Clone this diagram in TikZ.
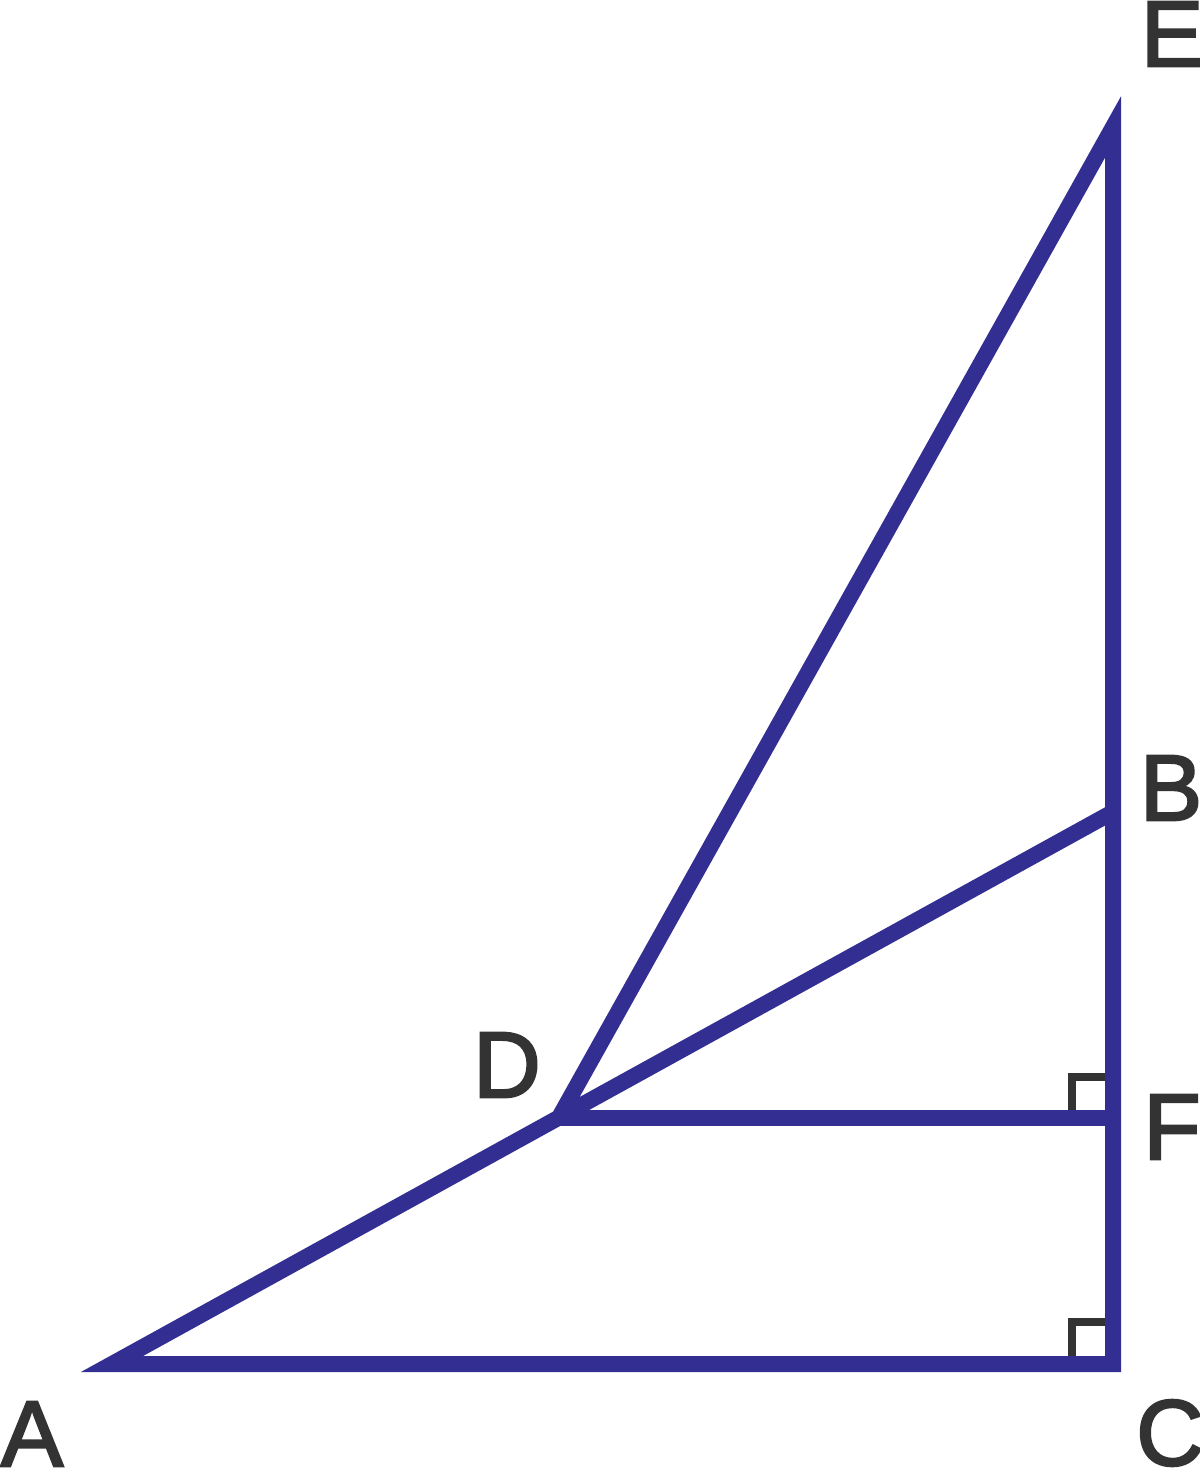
\documentclass[tikz,border=0pt]{standalone}
\usepackage{fontspec}
\setmainfont{Liberation Sans}
\newfontfamily\lblfont[FakeBold=2.5]{Liberation Sans}
\definecolor{lineblue}{HTML}{322E92}
\definecolor{labelgray}{HTML}{333333}
\begin{document}
\begin{tikzpicture}[x=1pt,y=-1pt,
  edge/.style={draw=lineblue,line width=16pt,miter limit=10},
  rightmark/.style={draw=labelgray,line width=8pt},
  lbl/.style={text=labelgray,inner sep=0pt,font=\lblfont\fontsize{93.6}{100}\selectfont}]
\useasboundingbox (0,0) rectangle (1200,1468);
\coordinate (A) at (112,1364);
\coordinate (C) at (1113,1364);
\coordinate (E) at (1113,127);
\coordinate (B) at (1113,812);
\coordinate (D) at (559,1117.5);
\coordinate (F) at (1113,1117.5);
% right angle marks
\draw[rightmark] (1072,1322) rectangle (1109,1360);
\draw[rightmark] (1072,1077) rectangle (1109,1114);
% lines
\draw[edge] (D) -- (E) -- (C) -- (A) -- (B);
\draw[edge] (D) -- (F);
% labels
\node[lbl] (lA) at (32,1434) {A};
\node[lbl] (lC) at (1170,1433) {C};
\node[lbl] (lE) at (1172,34) {E};
\node[lbl] (lB) at (1171,788) {B};
\node[lbl] (lD) at (507,1065) {D};
\node[lbl] (lF) at (1172,1127) {F};
\end{tikzpicture}
\end{document}
